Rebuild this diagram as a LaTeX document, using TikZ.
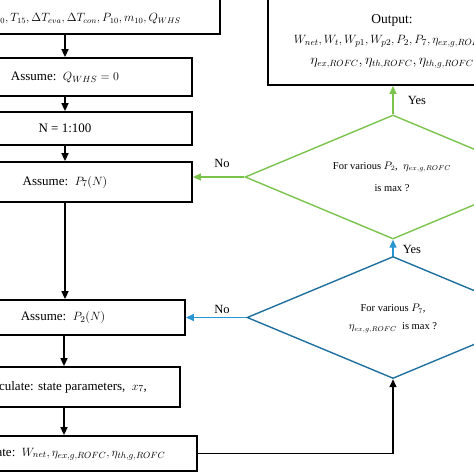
\documentclass[tikz,border=0pt]{standalone}
\usepackage{fontspec}
\setmainfont{Liberation Serif}
\usetikzlibrary{arrows.meta,shapes.geometric}
\definecolor{gline}{RGB}{122,196,76}
\definecolor{bline}{RGB}{30,112,158}
\definecolor{barrow}{RGB}{40,150,210}
\tikzset{
  x=1pt,y=-1pt,
  boxnode/.style={draw=black,line width=1.8pt,rectangle,inner sep=0pt,font=\fontsize{13}{15}\selectfont},
  arr/.style={line width=1.6pt,-{Triangle[width=7pt,length=8pt]}},
  dtext/.style={inner sep=0pt,font=\fontsize{10.5}{12}\selectfont},
  lbl/.style={inner sep=0pt,font=\fontsize{12.5}{14}\selectfont},
  otext/.style={inner sep=0pt,font=\fontsize{13.5}{15}\selectfont},
}
\begin{document}
\begin{tikzpicture}
\useasboundingbox (0,0) rectangle (474,474);
\clip (0,0) rectangle (474,474);
% left column
\node[boxnode,minimum width=350pt,minimum height=74pt] (b1) at (45,-3) {};
\node[inner sep=0pt,anchor=east,font=\fontsize{12}{14}\selectfont] (t1) at (181,19) {$T_{10}, T_{15}, \Delta T_{eva}, \Delta T_{con}, P_{10}, m_{10}, Q_{WHS}$};
\node[boxnode,minimum width=254pt,minimum height=38pt] (b2) at (65,77) {Assume:\ \ $Q_{WHS}=0$};
\node[boxnode,minimum width=254pt,minimum height=33pt] (b3) at (65,128.5) {N = 1:100};
\node[boxnode,minimum width=254pt,minimum height=40pt] (b4) at (65,182) {Assume:\ \ $P_7(N)$};
\node[boxnode,minimum width=244pt,minimum height=35pt] (b5) at (63,317.5) {Assume:\ \ $P_2(N)$};
\node[boxnode,minimum width=232pt,minimum height=40pt] (b6) at (64,387) {Calculate: state parameters,\ \ $x_7$,};
\node[boxnode,minimum width=266pt,minimum height=35pt] (b7) at (64,453.5) {Calculate:\ \ $W_{net}, \eta_{ex,g,ROFC}, \eta_{th,g,ROFC}$};
% output box
\node[boxnode,minimum width=248pt,minimum height=145pt] (out) at (392,12.5) {};
\node[otext] (o1) at (392,20) {Output:};
\node[otext,font=\fontsize{12.5}{14}\selectfont] (o2) at (392,41) {$W_{net}, W_t, W_{p1}, W_{p2}, P_2, P_7, \eta_{ex,g,ROFC},$};
\node[otext] (o3) at (392,63) {$\eta_{ex,ROFC}, \eta_{th,ROFC}, \eta_{th,g,ROFC}$};
% diamonds
\node[diamond,draw=gline,line width=1.4pt,minimum width=296pt,minimum height=124pt,inner sep=0pt] (gd) at (393,177) {};
\node[dtext] (g1) at (392,167) {For various $P_2$,\ \ $\eta_{ex,g,ROFC}$};
\node[dtext] (g2) at (392,188) {is max ?};
\node[diamond,draw=bline,line width=1.4pt,minimum width=292pt,minimum height=122pt,inner sep=0pt] (bd) at (393,317.5) {};
\node[dtext] (bt1) at (393,309) {For various $P_7$,};
\node[dtext] (bt2) at (393,328) {$\eta_{ex,g,ROFC}$\ \ is max ?};
% connectors
\draw[arr] (b2.north |- b1.south) -- (b2.north);
\draw[arr] (b2.south) -- (b3.north);
\draw[arr] (b3.south) -- (b4.north);
\draw[arr] (b4.south) -- (b4.south |- b5.north);
\draw[arr] (b6.north |- b5.south) -- (b6.north);
\draw[arr] (b6.south) -- (b7.north);
\draw[arr,draw=gline,line width=1.4pt,-{Triangle[width=7pt,length=8pt,fill=gline]}] (gd.west) -- (b4.east |- gd.west);
\draw[arr,draw=barrow,line width=1.4pt,-{Triangle[width=7pt,length=8pt,fill=barrow]}] (bd.west) -- (b5.east |- bd.west);
\draw[arr,draw=gline,line width=1.4pt,-{Triangle[width=7pt,length=8pt,fill=gline]}] (gd.north) -- (out.south -| gd.north);
\draw[arr,draw=barrow,line width=1.4pt,-{Triangle[width=7pt,length=8pt,fill=barrow]}] (bd.north) -- (gd.south);
\draw[arr] (b7.east) -- (bd.south |- b7.east) -- (bd.south);
% labels
\node[lbl] (no1) at (222,163) {No};
\node[lbl] (no2) at (222,309) {No};
\node[lbl] (yes1) at (417,100) {Yes};
\node[lbl] (yes2) at (412,249) {Yes};
\end{tikzpicture}
\end{document}
